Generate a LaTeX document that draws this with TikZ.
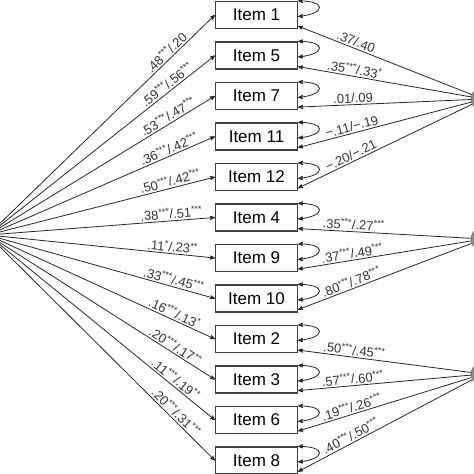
\documentclass[tikz,border=0pt]{standalone}
\usepackage{fontspec}
\setmainfont{Liberation Sans}
\usepackage{tikz}
\usetikzlibrary{arrows}
\newcommand{\sig}[1]{\textsuperscript{#1}}

\begin{document}
\begin{tikzpicture}
[x=1pt,y=-1pt,>=stealth',
item/.style={rectangle,draw=black!75,line width=1.2pt,minimum width=82pt,minimum height=27pt,inner sep=0pt,font=\fontsize{17}{18}\selectfont},
latent/.style={circle,draw=black!70,fill=black!45,minimum size=24pt,inner sep=0pt},
load/.style={->,draw=black!85,line width=0.8pt},
resid/.style={<->,draw=black!85,line width=0.8pt},
lab/.style={sloped,above,inner sep=1.5pt,font=\fontsize{13}{13}\selectfont,text=black!80}]
\useasboundingbox (0,0) rectangle (474,474);
\clip (0,0) rectangle (474,474);
% latent factors
\node[latent] (F) at (-12,235) {};
\node[latent] (G1) at (483,99) {};
\node[latent] (G2) at (483,239) {};
\node[latent] (G3) at (483,374) {};
% items with loadings
\foreach \n/\k/\g/\a/\b in {
	1/0/G1/{.48\sig{***}/.20}/{.37/.40},
	5/1/G1/{.59\sig{***}/.56\sig{***}}/{.35\sig{***}/.33\sig{*}},
	7/2/G1/{.53\sig{***}/.47\sig{***}}/{.01/.09},
	11/3/G1/{.36\sig{***}/.42\sig{***}}/{−.11/−.19},
	12/4/G1/{.50\sig{***}/.42\sig{***}}/{−.20/−.21},
	4/5/G2/{.38\sig{***}/.51\sig{***}}/{.35\sig{***}/.27\sig{***}},
	9/6/G2/{.11\sig{*}/.23\sig{**}}/{.37\sig{***}/.49\sig{***}},
	10/7/G2/{.33\sig{***}/.45\sig{***}}/{.80\sig{***}/.78\sig{***}},
	2/8/G3/{.16\sig{***}/.13\sig{*}}/{.50\sig{***}/.45\sig{***}},
	3/9/G3/{.20\sig{***}/.17\sig{**}}/{.57\sig{***}/.60\sig{***}},
	6/10/G3/{.11\sig{***}/.19\sig{**}}/{.19\sig{***}/.26\sig{***}},
	8/11/G3/{.20\sig{***}/.31\sig{***}}/{.40\sig{***}/.50\sig{***}}}{
	\node[item] (i\n) at (256.5,15+40.5*\k) {Item \n};
	\draw[load] (F) -- node[lab,pos=0.8]{\a} (i\n.west);
	\draw[load] (\g) -- node[lab,pos=0.68]{\b} ([yshift=3pt]i\n.south east);
	\draw[resid] (i\n.north east) .. controls +(28,0) and +(28,-3) .. ([yshift=-1.5pt]i\n.east);
}
\end{tikzpicture}
\end{document}
